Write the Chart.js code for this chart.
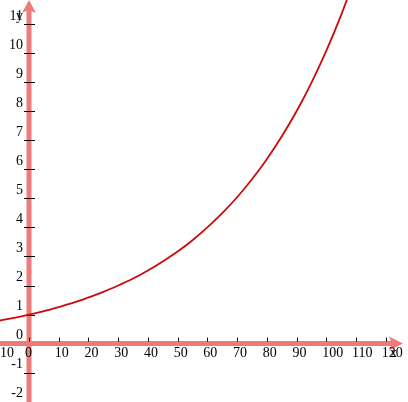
<!DOCTYPE html>
<html>
<head>
<meta charset="utf-8">
<script src="https://cdn.jsdelivr.net/npm/chart.js@4/dist/chart.umd.min.js"></script>
<style>
  html, body { margin: 0; padding: 0; background: #fff; }
  #wrap { width: 408px; height: 402px; position: relative; }
</style>
</head>
<body>
<div id="wrap"><canvas id="c"></canvas></div>
<script>
// values
const xs = [-10, -5, 0, 5, 10, 15, 20, 25, 30, 35, 40, 45, 50, 55, 60, 65, 70, 75, 80, 85, 90, 95, 100, 105, 110];
const ys = [0.79, 0.89, 1.0, 1.12, 1.26, 1.41, 1.59, 1.78, 2.0, 2.24, 2.52, 2.83, 3.17, 3.56, 4.0, 4.49, 5.04, 5.66, 6.35, 7.13, 8.0, 8.98, 10.08, 11.31, 12.7];

const xTicks = [-10, 0, 10, 20, 30, 40, 50, 60, 70, 80, 90, 100, 110, 120];
const yTicks = [-2, -1, 0, 1, 2, 3, 4, 5, 6, 7, 8, 9, 10, 11];

const axisColor = "#f07a7a";
const labelFont = "14px 'Liberation Serif'";

const axesPlugin = {
  id: "mathAxes",
  beforeDatasetsDraw(chart) {
    const { ctx, scales: { x, y } } = chart;
    const x0 = x.getPixelForValue(0);
    const y0 = y.getPixelForValue(0);
    ctx.save();

    // axis lines
    ctx.strokeStyle = axisColor;
    ctx.lineWidth = 5;
    ctx.beginPath();
    ctx.moveTo(x.left, y0);
    ctx.lineTo(x.right - 10, y0);
    ctx.moveTo(x0, y.bottom);
    ctx.lineTo(x0, y.top + 8);
    ctx.stroke();

    // arrow heads
    ctx.fillStyle = axisColor;
    ctx.beginPath();
    ctx.moveTo(403, y0);
    ctx.lineTo(389, y0 - 7);
    ctx.lineTo(392, y0);
    ctx.lineTo(389, y0 + 7);
    ctx.closePath();
    ctx.fill();
    ctx.beginPath();
    ctx.moveTo(x0, 0);
    ctx.lineTo(x0 - 7, 13);
    ctx.lineTo(x0, 10);
    ctx.lineTo(x0 + 7, 13);
    ctx.closePath();
    ctx.fill();

    // ticks
    ctx.strokeStyle = "#000";
    ctx.lineWidth = 1;
    ctx.beginPath();
    xTicks.forEach(v => {
      const px = Math.round(x.getPixelForValue(v)) + 0.5;
      ctx.moveTo(px, y0 - 6);
      ctx.lineTo(px, y0 - 2);
    });
    yTicks.forEach(v => {
      if (v === 0) return;
      const py = Math.round(y.getPixelForValue(v)) + 0.5;
      ctx.moveTo(x0 - 5, py);
      ctx.lineTo(x0 + 6, py);
    });
    ctx.stroke();

    // labels
    ctx.fillStyle = "#000";
    ctx.font = labelFont;
    ctx.textBaseline = "middle";
    ctx.textAlign = "left";
    xTicks.forEach(v => {
      ctx.fillText(String(v), x.getPixelForValue(v) - 4, y0 + 10);
    });
    ctx.textAlign = "right";
    yTicks.forEach(v => {
      ctx.fillText(String(v), x0 - 6, y.getPixelForValue(v) - 8);
    });
    ctx.textAlign = "left";
    ctx.fillText("x", 390, y0 + 10);
    ctx.fillText("y", 16, y.getPixelForValue(11) - 8);
    ctx.restore();
  }
};

new Chart(document.getElementById("c"), {
  type: "scatter",
  data: {
    datasets: [{
      data: xs.map((v, i) => ({ x: v, y: ys[i] })),
      showLine: true,
      borderColor: "#cc0a0a",
      borderWidth: 1.8,
      pointRadius: 0,
      cubicInterpolationMode: "monotone",
      fill: false
    }]
  },
  options: {
    responsive: true,
    maintainAspectRatio: false,
    animation: false,
    layout: { padding: 0 },
    plugins: { legend: { display: false }, tooltip: { enabled: false } },
    scales: {
      x: { type: "linear", min: -9.76, max: 127.5, display: false },
      y: { type: "linear", min: -2.01, max: 11.83, display: false }
    }
  },
  plugins: [axesPlugin]
});
</script>
</body>
</html>
